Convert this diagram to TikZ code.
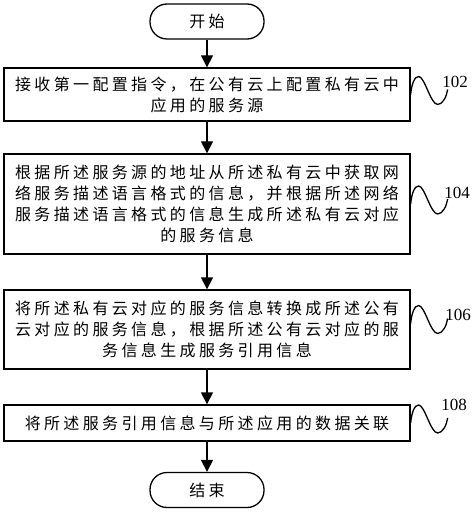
\documentclass[tikz,border=0pt]{standalone}
\usepackage{fontspec}
\setmainfont{Liberation Serif}
\newfontfamily\cjk[LetterSpace=21]{Noto Sans CJK SC}
\usetikzlibrary{arrows.meta}

\tikzset{
	box/.style = {draw,line width=1.3pt,minimum width=406pt,align=center,inner sep=0pt,
		font=\cjk\fontsize{16pt}{21pt}\selectfont},
	term/.style = {draw,line width=1.3pt,rounded corners=17pt,minimum width=114pt,minimum height=35pt,
		font=\cjk\fontsize{16pt}{21pt}\selectfont},
	arr/.style = {-{Triangle[width=12pt,length=12pt]},line width=1.3pt},
	num/.style = {font=\fontsize{17pt}{20pt}\selectfont,inner sep=0pt},
}
\newcommand{\stepwave}[1]{%
	\begin{scope}[shift={(#1)}]
	\draw[line width=1.3pt] (0,0) .. controls (1,-11) and (4,-18) .. (8,-18)
		.. controls (14,-18) and (20,10) .. (27,10) .. controls (32,10) and (36,2) .. (37,-5);
	\end{scope}}

\begin{document}
\begin{tikzpicture}[x=1pt,y=-1pt]
	\useasboundingbox (0,0) rectangle (474,513);

	\node[term] (start) at (207,21.5) {开始};
	\node[box,minimum height=53pt] (b1) at (207,94.5) {接收第一配置指令，在公有云上配置私有云中\\应用的服务源};
	\node[box,minimum height=100pt] (b2) at (207,204) {根据所述服务源的地址从所述私有云中获取网\\络服务描述语言格式的信息，并根据所述网络\\服务描述语言格式的信息生成所述私有云对应\\的服务信息};
	\node[box,minimum height=79pt] (b3) at (207,329.5) {将所述私有云对应的服务信息转换成所述公有\\云对应的服务信息，根据所述公有云对应的服\\务信息生成服务引用信息};
	\node[box,minimum height=36pt] (b4) at (207,423) {将所述服务引用信息与所述应用的数据关联};
	\node[term] (end) at (207,490) {结束};

	\draw[arr] (start) -- (b1);
	\draw[arr] (b1) -- (b2);
	\draw[arr] (b2) -- (b3);
	\draw[arr] (b3) -- (b4);
	\draw[arr] (b4) -- (end);

	% step numbers
	\stepwave{b1.east}
	\node[num] (n102) at (455,82) {102};
	\stepwave{b2.east}
	\node[num] (n104) at (457,193) {104};
	\stepwave{[yshift=6pt]b3.east}
	\node[num] (n106) at (458,315) {106};
	\stepwave{b4.east}
	\node[num] (n108) at (454,405) {108};
\end{tikzpicture}
\end{document}
